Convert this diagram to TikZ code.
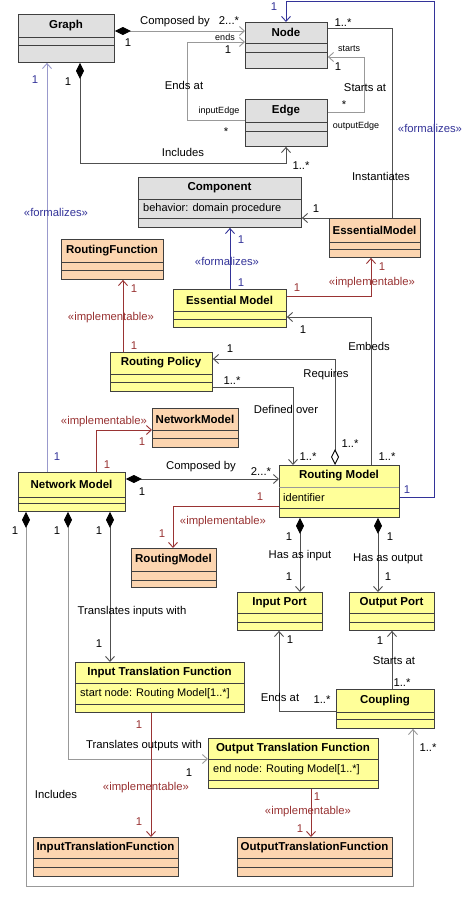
\documentclass[tikz,border=0pt]{standalone}
\usepackage{fontspec}
\setmainfont{Liberation Sans}
\usetikzlibrary{arrows.meta}
\definecolor{boxgray}{HTML}{E0E0E0}
\definecolor{boxyel}{HTML}{FFFF99}
\definecolor{boxora}{HTML}{FCD5B0}
\definecolor{bordc}{HTML}{404040}
\definecolor{umlred}{HTML}{993333}
\definecolor{umlblue}{HTML}{333399}
\definecolor{umllblue}{HTML}{9999CC}
\definecolor{lgray}{HTML}{999999}
\definecolor{dgray}{HTML}{505050}
\tikzset{
  cbox/.style={draw=bordc, line width=0.9pt, inner sep=0pt},
  gbox/.style={cbox, fill=boxgray},
  ybox/.style={cbox, fill=boxyel},
  obox/.style={cbox, fill=boxora},
  divline/.style={draw=bordc, line width=0.9pt},
  ttl/.style={font=\fontsize{11.5}{13}\selectfont\bfseries, inner sep=0pt},
  attr/.style={font=\fontsize{11}{12}\selectfont, inner sep=0pt, anchor=west},
  lab/.style={font=\fontsize{11.3}{12}\selectfont, inner sep=0pt},
  slab/.style={font=\fontsize{9}{10}\selectfont, inner sep=0pt},
  rlab/.style={lab, text=umlred},
  blab/.style={lab, text=umlblue},
  bar/.style={-{Straight Barb[length=5pt,width=9pt]}},
  dia/.style={{Diamond[color=black,fill=black,length=16pt,width=8pt]}-{Straight Barb[length=5pt,width=9pt]}},
  hdia/.style={{Diamond[open,color=black,fill=white,length=16pt,width=8pt]}-{Straight Barb[length=5pt,width=9pt]}},
  gl/.style={draw=lgray, line width=0.9pt},
  dl/.style={draw=dgray, line width=0.9pt},
  rl/.style={draw=umlred, line width=0.9pt},
  bl/.style={draw=umlblue, line width=0.9pt},
  lbl/.style={draw=umllblue, line width=0.9pt},
}
\newcommand\umlbox[9]{%
  \node[#8, anchor=north west, minimum width={(#4-#2)*1pt}, minimum height={(#5-#3)*1pt}] (#1) at (#2,#3) {};
  \draw[divline] (#2,#6) -- (#4,#6) (#2,#7) -- (#4,#7);
  \node[ttl] (#1-t) at ({(#2+#4)/2},{(#3+#6)/2}) {#9};
}
\begin{document}
\begin{tikzpicture}[x=1pt,y=-1pt]
\useasboundingbox (0,0) rectangle (474,897);
\fill[white] (0,0) rectangle (474,897);

% ---------- classes ----------
\umlbox{graph}{18}{14}{114}{62}{37}{45}{gbox}{Graph}
\umlbox{nd}{245}{22}{327}{68}{43}{52}{gbox}{Node}
\umlbox{edge}{245}{99}{327}{146}{122}{131}{gbox}{Edge}
\umlbox{comp}{138}{177}{301}{227}{199}{218}{gbox}{Component}
\node[attr] (comp-a) at (143,209) {behavior: domain procedure};
\umlbox{essO}{329}{218}{420}{257}{242}{249}{obox}{EssentialModel}
\umlbox{rfun}{61}{239}{163}{279}{262}{270}{obox}{RoutingFunction}
\umlbox{essY}{173}{289}{286}{327}{311}{319}{ybox}{Essential Model}
\umlbox{rpol}{110}{352}{212}{391}{374}{382}{ybox}{Routing Policy}
\umlbox{nmO}{152}{408}{238}{447}{430}{438}{obox}{NetworkModel}
\umlbox{nmY}{18}{472}{125}{511}{497}{503}{ybox}{Network Model}
\umlbox{rmY}{279}{465}{399}{517}{487}{508}{ybox}{Routing Model}
\draw[draw=lgray, line width=0.6pt] (279,487) -- (399,487);
\node[attr] (rmY-a) at (283,498) {identifier};
\umlbox{rmO}{131}{548}{216}{587}{571}{580}{obox}{RoutingModel}
\umlbox{inp}{237}{592}{322}{630}{613}{622}{ybox}{Input Port}
\umlbox{outp}{349}{592}{434}{630}{613}{622}{ybox}{Output Port}
\umlbox{itf}{75}{662}{244}{712}{683}{704}{ybox}{Input Translation Function}
\node[attr] (itf-a) at (80,694) {start node: Routing Model[1..*]};
\umlbox{coup}{336}{689}{434}{728}{712}{719}{ybox}{Coupling}
\umlbox{otf}{208}{738}{378}{788}{759}{780}{ybox}{Output Translation Function}
\node[attr] (otf-a) at (213,770) {end node: Routing Model[1..*]};
\umlbox{itfO}{33}{837}{178}{876}{858}{867}{obox}{InputTranslationFunction}
\umlbox{otfO}{237}{837}{392}{876}{858}{867}{obox}{OutputTranslationFunction}

% ---------- connectors ----------
% Graph composed by Node
\draw[gl, dia] (graph.east |- 0,31) -- (nd.west |- 0,31);
% Ends at
\draw[gl, bar] (edge.west |- 0,120) -| (187,42) -- (nd.west |- 0,42);
% Starts at
\draw[gl, bar] (edge.east |- 0,112) -| (364,57) -- (nd.east |- 0,57);
% Graph includes Edge
\draw[dl, dia] (graph.south -| 80,0) |- (286,163) -- (edge.south -| 286,0);
% Instantiates
\draw[dl] (nd.east |- 0,28) -| (essO.north -| 392,0);
% EssentialModel -> Component
\draw[dl, bar] (essO.north west) -- (comp.east |- essO.north west);
% formalizes (Routing Model -> Node)
\draw[bl, bar] (rmY.east |- 0,497) -| (434,1) -| (nd.north -| 286,0);
% formalizes (Network Model -> Graph)
\draw[lbl, bar] (nmY.north -| 47,0) -- (graph.south -| 47,0);
% formalizes (Essential Model -> Component)
\draw[bl, bar] (essY.north -| 230,0) -- (comp.south -| 230,0);
% implementable Essential Model -> EssentialModel
\draw[rl, bar] (essY.east |- 0,296) -| (essO.south -| 371,0);
% Embeds
\draw[dl, bar] (rmY.north -| 371,0) |- (essY.east |- 0,317);
% implementable Routing Policy -> RoutingFunction
\draw[rl, bar] (rpol.north -| 123,0) -- (rfun.south -| 123,0);
% Requires
\draw[dl, hdia] (rmY.north -| 335,0) |- (rpol.east |- 0,359);
% Defined over
\draw[dl, bar] (rpol.east |- 0,387) -| (rmY.north -| 293,0);
% implementable Network Model -> NetworkModel
\draw[rl, bar] (nmY.north -| 96,0) |- (nmO.west |- 0,430);
% Composed by
\draw[dl, dia] (nmY.east |- 0,479) -- (rmY.west |- 0,479);
% implementable Routing Model -> RoutingModel
\draw[rl, bar] (rmY.west |- 0,506) -| (rmO.north -| 173,0);
% Has as input / output
\draw[dl, dia] (rmY.south -| 300,0) -- (inp.north -| 300,0);
\draw[dl, dia] (rmY.south -| 378,0) -- (outp.north -| 378,0);
% Coupling ends at / starts at
\draw[dl, bar] (coup.west |- 0,711) -| (inp.south -| 279,0);
\draw[dl, bar] (coup.north -| 392,0) -- (outp.south -| 392,0);
% Translates inputs with
\draw[dl, dia] (nmY.south -| 110,0) -- (itf.north -| 110,0);
% Translates outputs with
\draw[gl, dia] (nmY.south -| 68,0) |- (otf.west |- 0,759);
% Includes (Network Model -> Coupling)
\draw[gl, dia] (nmY.south -| 26,0) |- (413,886) -- (coup.south -| 413,0);
% implementable translation functions
\draw[rl, bar] (itf.south -| 151,0) -- (itfO.north -| 151,0);
\draw[rl, bar] (otf.south -| 311,0) -- (otfO.north -| 311,0);

% ---------- labels ----------
\node[lab] at (175,22) {Composed by};
\node[lab] at (229,21) {2...*};
\node[lab] at (128,43) {1};
\node[slab] at (225,37) {ends};
\node[lab] at (228,50) {1};
\node[lab] at (184,85) {Ends at};
\node[slab] at (219,111) {inputEdge};
\node[lab] at (226,132) {*};
\node[lab] at (68,82) {1};
\node[blab] at (35,80) {1};
\node[lab] at (183,152) {Includes};
\node[lab] at (301,166) {1..*};
\node[blab] at (56,212) {«formalizes»};
\node[blab] at (274,7) {1};
\node[lab] at (343,23) {1..*};
\node[slab] at (349,49) {starts};
\node[lab] at (338,67) {1};
\node[lab] at (365,88) {Starts at};
\node[lab] at (344,105) {*};
\node[slab] at (356,126) {outputEdge};
\node[blab] at (430,128) {«formalizes»};
\node[lab] at (381,176) {Instantiates};
\node[lab] at (316,209) {1};
\node[blab] at (241,240) {1};
\node[blab] at (227,261) {«formalizes»};
\node[blab] at (241,283) {1};
\node[rlab] at (297,288) {1};
\node[rlab] at (382,267) {1};
\node[rlab] at (372,283) {«implementable»};
\node[rlab] at (134,289) {1};
\node[rlab] at (111,318) {«implementable»};
\node[rlab] at (134,346) {1};
\node[lab] at (230,349) {1};
\node[lab] at (232,381) {1..*};
\node[lab] at (303,330) {1};
\node[lab] at (369,346) {Embeds};
\node[lab] at (326,375) {Requires};
\node[lab] at (286,409) {Defined over};
\node[lab] at (350,444) {1..*};
\node[lab] at (308,457) {1..*};
\node[lab] at (387,457) {1..*};
\node[rlab] at (104,422) {«implementable»};
\node[rlab] at (142,442) {1};
\node[rlab] at (107,465) {1};
\node[blab] at (57,457) {1};
\node[lab] at (201,467) {Composed by};
\node[lab] at (261,472) {2...*};
\node[lab] at (142,492) {1};
\node[rlab] at (260,497) {1};
\node[blab] at (407,490) {1};
\node[rlab] at (223,522) {«implementable»};
\node[rlab] at (162,534) {1};
\node[lab] at (15,531) {1};
\node[lab] at (57,531) {1};
\node[lab] at (99,531) {1};
\node[lab] at (289,537) {1};
\node[lab] at (300,556) {Has as input};
\node[lab] at (289,577) {1};
\node[lab] at (390,537) {1};
\node[lab] at (388,559) {Has as output};
\node[lab] at (388,577) {1};
\node[lab] at (132,612) {Translates inputs with};
\node[lab] at (99,644) {1};
\node[lab] at (290,640) {1};
\node[lab] at (380,641) {1};
\node[lab] at (394,661) {Starts at};
\node[lab] at (402,683) {1..*};
\node[lab] at (280,697) {Ends at};
\node[lab] at (322,700) {1..*};
\node[rlab] at (139,725) {1};
\node[lab] at (428,748) {1..*};
\node[lab] at (144,746) {Translates outputs with};
\node[lab] at (189,773) {1};
\node[lab] at (56,794) {Includes};
\node[rlab] at (146,788) {«implementable»};
\node[rlab] at (317,797) {1};
\node[rlab] at (308,812) {«implementable»};
\node[rlab] at (139,822) {1};
\node[rlab] at (300,829) {1};
\end{tikzpicture}
\end{document}
